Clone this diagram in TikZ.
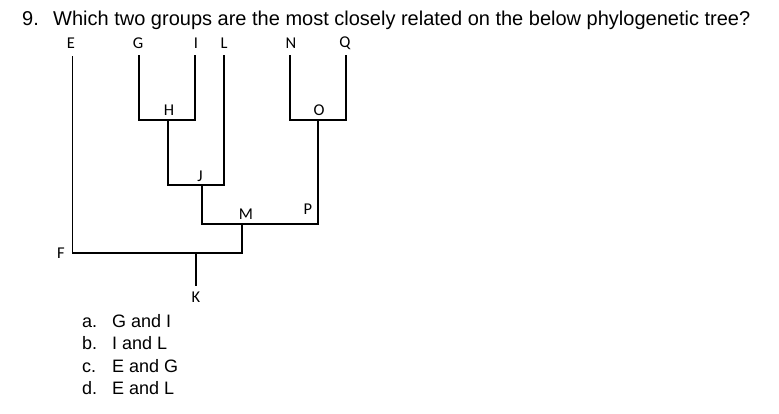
\documentclass[tikz,border=0pt]{standalone}
\usepackage{fontspec}
\setmainfont{Liberation Sans}
\newfontfamily\treefont{Carlito}
\usetikzlibrary{positioning}

\tikzset{
  branch/.style={line width=1.6pt, line cap=rect},
  taxon/.style={font=\treefont\fontsize{16.5}{18}\selectfont, inner sep=0pt},
  txt/.style={anchor=base west, inner sep=0pt}
}

\begin{document}
\begin{tikzpicture}[x=1pt,y=-1pt]
  \useasboundingbox (0,0) rectangle (779,413);

  % question
  \node[txt, font=\fontsize{20}{22}\selectfont] (num) at (22,25) {9.};
  \node[txt, font=\fontsize{20}{22}\selectfont] (qtext) at (53,25) {Which two groups are the most closely related on the below phylogenetic tree?};

  % tips and junctions
  \coordinate (e) at (72.5,57);
  \coordinate (g) at (139,56);
  \coordinate (i) at (195,56);
  \coordinate (l) at (224,56);
  \coordinate (n) at (290,56);
  \coordinate (q) at (346,56);
  \coordinate (h) at (168,120);
  \coordinate (o) at (318,120);
  \coordinate (j) at (202,185);
  \coordinate (m) at (242,224);
  \coordinate (k) at (196,285);

  % branches
  \draw[branch] (g) |- (h) -| (i);
  \draw[branch] (n) |- (o) -| (q);
  \draw[branch] (h) |- (j) -| (l);
  \draw[branch] (j) |- (m) -| (o);
  \draw[branch] (e) |- (k |- 0,253) -| (m);
  \draw[branch] (k |- 0,253) -- (k);

  % labels
  \node[taxon] (labE) at (71,43) {E};
  \node[taxon] (labG) at (138,43) {G};
  \node[taxon] (labI) at (196,43) {I};
  \node[taxon] (labL) at (224,43) {L};
  \node[taxon] (labN) at (291,43) {N};
  \node[taxon] (labQ) at (345,43) {Q};
  \node[taxon] (labH) at (169,110) {H};
  \node[taxon] (labO) at (319,110) {O};
  \node[taxon] (labJ) at (200,176) {J};
  \node[taxon] (labP) at (308,209) {P};
  \node[taxon] (labM) at (246,214) {M};
  \node[taxon] (labF) at (61,253) {F};
  \node[taxon] (labK) at (196,297) {K};

  % answers
  \foreach \y/\opt/\ans in {327/a/G and I, 349.5/b/I and L, 372/c/E and G, 394.5/d/E and L}{
    \node[txt, font=\fontsize{18}{20}\selectfont] (opt\opt) at (82,\y) {\opt.};
    \node[txt, font=\fontsize{18}{20}\selectfont] (ans\opt) at (112,\y) {\ans};
  }
\end{tikzpicture}
\end{document}
